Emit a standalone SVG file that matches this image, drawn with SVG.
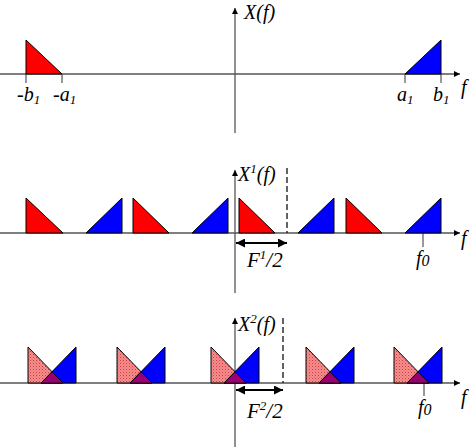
<svg xmlns="http://www.w3.org/2000/svg" width="474" height="447" viewBox="0 0 474 447">
<defs>
<marker id="ah" viewBox="0 0 10 10" refX="10" refY="5" markerWidth="7" markerHeight="6" markerUnits="userSpaceOnUse" orient="auto-start-reverse"><path d="M0,0 L10,5 L0,10 Z" fill="#000"/></marker>
<marker id="da" viewBox="0 0 10 10" refX="10" refY="5" markerWidth="10" markerHeight="9" markerUnits="userSpaceOnUse" orient="auto-start-reverse"><path d="M0,0 L10,5 L0,10 Z" fill="#000"/></marker>
<pattern id="dots" width="3" height="3" patternUnits="userSpaceOnUse"><rect width="3" height="3" fill="#f58e8e"/><rect x="0" y="0" width="1" height="1" fill="#d83838"/><rect x="1.5" y="1.5" width="1" height="1" fill="#e45a5a"/></pattern>
</defs>
<style>
.ax{stroke:#555;stroke-width:1.3;fill:none}
.tk{stroke:#333;stroke-width:1;fill:none}
.dash{stroke:#222;stroke-width:1.4;stroke-dasharray:6,3;fill:none}
.dbl{stroke:#000;stroke-width:2;fill:none}
.r{fill:#ff0000;stroke:#000;stroke-width:1}
.b{fill:#0000ff;stroke:#000;stroke-width:1}
.p{fill:url(#dots);stroke:#000;stroke-width:1}
.o{fill:#990070;stroke:#000;stroke-width:0.8}
text{font-family:"Liberation Serif","Times New Roman",serif;font-style:italic;font-size:20px;fill:#000}
.sub{font-size:13px}
.big{font-size:21px}
</style>

<g id="connectors">
  <line class="ax" x1="0" y1="74" x2="460" y2="74" marker-end="url(#ah)"/>
  <line class="ax" x1="235" y1="133" x2="235" y2="8" marker-end="url(#ah)"/>
  <line class="ax" x1="0" y1="233" x2="460" y2="233" marker-end="url(#ah)"/>
  <line class="ax" x1="235" y1="293" x2="235" y2="170" marker-end="url(#ah)"/>
  <line class="dash" x1="287" y1="168" x2="287" y2="233"/>
  <line class="dbl" x1="236" y1="243" x2="287" y2="243" marker-start="url(#da)" marker-end="url(#da)"/>
  <line class="tk" x1="423" y1="233" x2="423" y2="247"/>
  <line class="ax" x1="0" y1="383" x2="460" y2="383" marker-end="url(#ah)"/>
  <line class="ax" x1="235" y1="447" x2="235" y2="318" marker-end="url(#ah)"/>
  <line class="dash" x1="283" y1="318" x2="283" y2="383"/>
  <line class="dbl" x1="236" y1="390" x2="283" y2="390" marker-start="url(#da)" marker-end="url(#da)"/>
  <line class="tk" x1="424" y1="383" x2="424" y2="396"/>
</g>

<g id="panel1">
  <polygon class="r" points="26,40 26,74 62,74"/>
  <polygon class="b" points="405,74 441,74 441,40"/>
  <line class="tk" x1="26" y1="74" x2="26" y2="83"/>
  <line class="tk" x1="62" y1="74" x2="62" y2="83"/>
  <line class="tk" x1="405" y1="74" x2="405" y2="83"/>
  <line class="tk" x1="441" y1="74" x2="441" y2="83"/>
  <text x="244" y="19">X(f)</text>
  <text x="17" y="101">-b<tspan class="sub" dy="3">1</tspan></text>
  <text x="53" y="101">-a<tspan class="sub" dy="3">1</tspan></text>
  <text x="397" y="101">a<tspan class="sub" dy="3">1</tspan></text>
  <text x="433" y="101">b<tspan class="sub" dy="3">1</tspan></text>
  <text x="461" y="94">f</text>
</g>

<g id="panel2">
  <polygon class="r" points="26,198 26,233 63,233"/>
  <polygon class="b" points="86,233 122,233 122,198"/>
  <polygon class="r" points="133,198 133,233 169,233"/>
  <polygon class="b" points="192,233 228,233 228,198"/>
  <polygon class="r" points="239,198 239,233 275,233"/>
  <polygon class="b" points="298,233 334,233 334,198"/>
  <polygon class="r" points="346,198 346,233 382,233"/>
  <polygon class="b" points="405,233 441,233 441,198"/>
  <text x="238" y="181">X<tspan class="sub" dy="-8">1</tspan><tspan dy="8">(f)</tspan></text>
  <text class="big" x="247" y="267">F<tspan class="sub" dy="-8">1</tspan><tspan dy="8">/2</tspan></text>
  <text x="416" y="265">f<tspan font-size="16" dy="1">0</tspan></text>
  <text x="461" y="245">f</text>
</g>

<g id="panel3">
  <g id="g1">
    <polygon class="p" points="28,347 28,383 63,383"/>
    <polygon class="b" points="41,383 76,383 76,347"/>
    <polygon class="o" points="41,383 63,383 52,372"/>
  </g>
  <g id="g2">
    <polygon class="p" points="117,347 117,383 152,383"/>
    <polygon class="b" points="130,383 165,383 165,347"/>
    <polygon class="o" points="130,383 152,383 141,372"/>
  </g>
  <g id="g3">
    <polygon class="p" points="211,347 211,383 246,383"/>
    <polygon class="b" points="224,383 259,383 259,347"/>
    <polygon class="o" points="224,383 246,383 235,372"/>
  </g>
  <g id="g4">
    <polygon class="p" points="306,347 306,383 341,383"/>
    <polygon class="b" points="319,383 354,383 354,347"/>
    <polygon class="o" points="319,383 341,383 330,372"/>
  </g>
  <g id="g5">
    <polygon class="p" points="394,347 394,383 429,383"/>
    <polygon class="b" points="407,383 442,383 442,347"/>
    <polygon class="o" points="407,383 429,383 418,372"/>
  </g>
  <text x="238" y="331">X<tspan class="sub" dy="-8">2</tspan><tspan dy="8">(f)</tspan></text>
  <text class="big" x="247" y="418">F<tspan class="sub" dy="-8">2</tspan><tspan dy="8">/2</tspan></text>
  <text x="418" y="414">f<tspan font-size="16" dy="1">0</tspan></text>
  <text x="461" y="404">f</text>
</g>
</svg>
